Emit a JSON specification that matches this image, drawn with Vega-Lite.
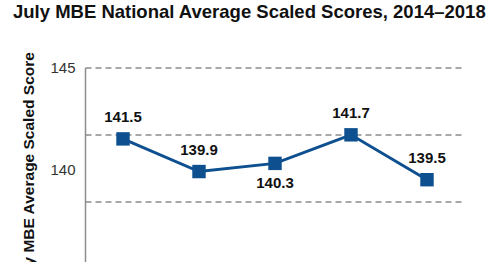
{
  "$schema": "https://vega.github.io/schema/vega-lite/v6.json",
  "width": 380,
  "height": 204,
  "autosize": {"type": "none"},
  "padding": {"left": 85, "top": 67.5, "right": 35, "bottom": 0},
  "background": "white",
  "config": {"view": {"stroke": null}, "font": "Liberation Sans"},
  "title": {
    "text": "July MBE National Average Scaled Scores, 2014–2018",
    "anchor": "start",
    "frame": "group",
    "dx": -72,
    "offset": 30,
    "font": "Liberation Sans",
    "fontSize": 18.5,
    "fontWeight": "bold",
    "color": "#111111"
  },
  "data": {
    "values": [
      {"year": "2014", "score": 141.5},
      {"year": "2015", "score": 139.9},
      {"year": "2016", "score": 140.3},
      {"year": "2017", "score": 141.7},
      {"year": "2018", "score": 139.5}
    ]
  },
  "encoding": {
    "x": {"field": "year", "type": "ordinal", "scale": {"type": "point", "padding": 0.5}, "axis": null},
    "y": {
      "field": "score",
      "type": "quantitative",
      "scale": {"domain": [135, 145], "nice": false, "zero": false},
      "axis": {
        "title": "July MBE Average Scaled Score",
        "titleFont": "Liberation Sans",
        "titleFontSize": 15.5,
        "titleFontWeight": "bold",
        "titleColor": "#111111",
        "titleX": -57,
        "titleY": 102,
        "titleBaseline": "middle",
        "titleAlign": "center",
        "titleAngle": -90,
        "values": [145, 141.72, 140, 138.45],
        "labelExpr": "datum.value == 145 || datum.value == 140 ? format(datum.value, 'd') : ''",
        "labelFont": "Liberation Sans",
        "labelFontSize": 15,
        "labelColor": "#333333",
        "labelPadding": 10,
        "ticks": false,
        "grid": true,
        "gridDash": [6, 4],
        "gridColor": "#8c8c8c",
        "gridWidth": 1.3,
        "gridOpacity": {"condition": {"test": "datum.value == 140", "value": 0}, "value": 1},
        "domainColor": "#8c8c8c",
        "domainWidth": 1.5
      }
    }
  },
  "layer": [
    {"mark": {"type": "line", "color": "#0d4f8f", "strokeWidth": 3}},
    {"mark": {"type": "point", "shape": "square", "size": 180, "filled": true, "opacity": 1, "color": "#0d4f8f"}},
    {
      "transform": [{"filter": "datum.year != '2016'"}],
      "mark": {"type": "text", "dy": -22, "font": "Liberation Sans", "fontSize": 15, "fontWeight": "bold", "color": "#111111"},
      "encoding": {"text": {"field": "score", "type": "quantitative", "format": ".1f"}}
    },
    {
      "transform": [{"filter": "datum.year == '2016'"}],
      "mark": {"type": "text", "dy": 20, "font": "Liberation Sans", "fontSize": 15, "fontWeight": "bold", "color": "#111111"},
      "encoding": {"text": {"field": "score", "type": "quantitative", "format": ".1f"}}
    }
  ]
}
